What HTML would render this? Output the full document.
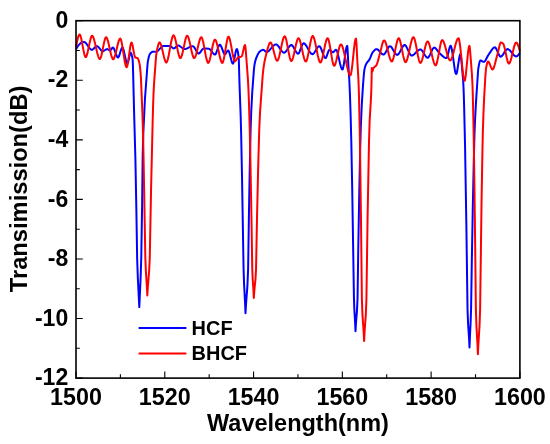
<!DOCTYPE html>
<html lang="en"><head><meta charset="utf-8"><title>Transmission spectra</title>
<style>html,body{margin:0;padding:0;background:#fff}body{width:550px;height:444px;overflow:hidden}svg{display:block}</style></head>
<body>
<svg width="550" height="444" viewBox="0 0 550 444">
<rect width="550" height="444" fill="#fff"/>
<g fill="none" stroke-linejoin="round" stroke-linecap="butt" stroke-width="2">
<path stroke="#0000ff" d="M76.00 49.10 L77.90 46.05 L78.86 44.85 L79.83 43.86 L80.81 43.08 L81.80 42.51 L82.79 42.15 L83.80 42.00 L84.25 42.02 L84.69 42.17 L85.66 42.91 L86.71 44.17 L89.74 48.46 L90.69 49.37 L91.54 49.77 L92.16 49.75 L92.83 49.42 L93.54 48.83 L95.58 46.80 L96.21 46.38 L96.78 46.21 L97.42 46.32 L98.12 46.78 L98.90 47.60 L101.21 50.46 L101.94 51.06 L102.60 51.30 L103.09 51.25 L103.64 51.04 L105.92 49.49 L106.93 49.11 L107.32 49.12 L107.74 49.27 L109.49 50.39 L109.87 50.49 L110.18 50.47 L110.81 49.95 L112.27 47.95 L112.65 47.66 L112.99 47.61 L113.27 47.75 L113.57 48.07 L114.21 49.22 L116.23 54.75 L116.90 56.32 L117.48 57.21 L117.75 57.43 L118.01 57.50 L118.26 57.40 L118.53 57.10 L119.10 55.95 L120.90 50.27 L121.49 48.70 L122.00 47.83 L122.24 47.64 L122.47 47.61 L122.75 47.82 L123.04 48.32 L123.68 50.21 L125.67 59.18 L126.31 61.65 L126.86 63.08 L127.12 63.46 L127.37 63.60 L127.55 63.53 L127.74 63.26 L128.14 62.12 L129.66 54.97 L130.00 53.71 L130.30 52.97 L130.47 52.75 L130.63 52.70 L131.01 53.08 L131.42 54.08 L131.89 55.79 L132.47 58.33 L132.67 59.71 L132.94 65.60 L134.16 114.51 L135.39 158.22 L136.32 207.12 L137.17 258.90 L137.88 279.03 L139.30 307.10 L140.66 276.46 L141.28 256.80 L142.11 205.30 L142.72 154.07 L143.34 132.56 L144.94 98.96 L147.36 66.47 L147.68 62.91 L148.03 60.62 L148.68 57.39 L149.33 55.16 L149.71 54.34 L150.32 53.48 L151.03 52.66 L151.71 52.09 L152.62 51.71 L156.42 51.50 L157.25 51.22 L158.57 50.18 L161.60 46.92 L162.34 46.34 L163.02 46.00 L163.58 45.90 L169.71 45.94 L170.64 46.38 L172.81 48.08 L173.35 48.33 L173.84 48.40 L174.35 48.28 L174.92 47.93 L177.26 45.84 L177.75 45.58 L178.19 45.50 L178.86 45.60 L179.60 45.93 L183.03 48.51 L183.86 48.94 L184.60 49.10 L185.57 49.01 L186.66 48.67 L190.09 46.96 L191.25 46.48 L192.35 46.23 L193.13 46.27 L193.74 46.70 L194.43 47.56 L196.60 51.38 L197.34 52.52 L198.00 53.22 L198.61 53.49 L199.20 53.36 L199.85 52.84 L202.34 49.41 L202.89 48.83 L203.39 48.49 L203.78 48.40 L205.54 48.45 L209.03 48.83 L209.70 49.16 L210.44 49.84 L212.80 52.95 L213.62 53.88 L214.38 54.44 L215.06 54.60 L215.33 54.47 L215.61 54.16 L216.22 53.01 L218.15 47.41 L218.78 45.85 L219.34 44.96 L219.60 44.75 L219.85 44.70 L220.39 45.05 L220.98 45.99 L221.62 47.47 L223.46 52.36 L224.03 53.46 L224.55 54.07 L225.02 54.18 L225.52 53.84 L227.13 51.31 L227.67 50.68 L228.16 50.51 L228.57 50.85 L229.02 51.76 L229.52 53.26 L231.78 61.79 L232.37 63.16 L232.65 63.50 L232.91 63.60 L233.13 63.45 L233.36 63.04 L233.87 61.36 L235.50 52.86 L236.07 50.43 L236.35 49.63 L236.61 49.20 L236.86 49.11 L237.11 49.34 L237.55 50.49 L238.00 52.63 L238.52 56.26 L238.79 59.08 L239.51 84.30 L240.67 115.92 L241.17 135.04 L242.00 175.71 L243.57 268.84 L244.08 283.85 L245.10 303.38 L245.50 313.30 L246.03 303.83 L247.39 286.22 L248.12 269.33 L248.91 215.86 L249.74 169.14 L250.59 130.25 L251.22 112.05 L252.30 91.31 L253.91 69.92 L254.31 66.15 L254.68 63.70 L255.45 60.43 L256.31 57.77 L257.28 55.54 L258.69 52.90 L259.56 51.70 L260.48 50.96 L262.09 50.06 L262.78 49.85 L263.40 49.81 L264.11 50.15 L265.49 51.48 L266.06 51.89 L266.64 52.00 L267.44 51.79 L268.33 51.26 L269.32 50.39 L272.54 46.69 L273.69 45.53 L274.80 44.73 L275.80 44.41 L276.25 44.42 L276.69 44.57 L277.65 45.31 L278.73 46.64 L281.01 50.09 L281.99 51.39 L283.02 52.36 L283.50 52.61 L283.95 52.70 L284.38 52.64 L284.82 52.43 L285.79 51.54 L286.71 50.30 L288.85 47.02 L289.89 45.75 L290.84 45.09 L291.29 45.00 L291.69 45.08 L292.39 45.60 L293.18 46.63 L295.71 51.23 L296.62 52.64 L297.48 53.50 L297.88 53.67 L298.25 53.68 L298.55 53.50 L298.86 53.16 L299.54 51.93 L301.70 46.17 L302.45 44.47 L303.13 43.51 L303.44 43.33 L303.76 43.31 L304.18 43.44 L304.62 43.71 L305.57 44.69 L306.68 46.37 L309.06 50.68 L310.09 52.34 L311.19 53.64 L311.69 54.00 L312.17 54.18 L312.60 54.18 L313.04 54.01 L314.00 53.11 L314.91 51.79 L317.02 48.24 L318.03 46.91 L318.50 46.50 L318.94 46.26 L319.35 46.20 L319.69 46.34 L320.32 47.06 L321.03 48.46 L323.28 54.62 L324.05 56.45 L324.75 57.62 L325.08 57.94 L325.39 58.09 L325.63 58.07 L325.86 57.91 L326.37 57.09 L328.38 51.39 L328.83 50.42 L329.24 49.90 L329.60 49.81 L330.10 50.02 L331.99 51.92 L332.42 52.21 L332.80 52.30 L333.17 52.21 L333.59 51.92 L335.41 50.02 L335.88 49.81 L336.24 49.88 L336.58 50.26 L336.93 50.93 L337.71 53.27 L340.16 63.95 L340.99 67.05 L341.74 68.91 L342.09 69.37 L342.42 69.50 L342.69 69.25 L342.98 68.55 L343.60 65.81 L345.55 52.35 L346.19 48.59 L346.73 46.53 L346.98 46.04 L347.22 45.91 L347.39 46.85 L347.59 49.52 L348.24 62.56 L349.44 82.74 L350.05 97.57 L350.68 117.23 L351.28 140.77 L352.20 188.06 L353.94 297.65 L354.35 309.37 L355.17 323.57 L355.50 331.20 L355.93 323.79 L357.00 310.60 L357.55 298.32 L358.25 250.33 L359.17 197.45 L360.19 149.02 L360.78 127.45 L361.78 104.76 L362.96 85.88 L363.70 76.23 L364.17 71.31 L364.51 69.05 L365.27 66.19 L365.89 64.61 L366.70 63.08 L367.33 62.21 L368.82 60.50 L369.54 59.38 L370.22 57.91 L371.82 53.94 L372.60 52.41 L374.67 50.05 L375.44 49.45 L376.14 49.14 L376.94 49.16 L377.82 49.61 L378.82 50.51 L380.94 52.93 L381.85 53.83 L382.82 54.45 L383.67 54.58 L384.38 54.17 L385.17 53.18 L387.70 48.50 L388.59 47.11 L389.42 46.33 L389.80 46.21 L390.19 46.24 L390.98 46.71 L391.85 47.73 L394.66 52.47 L395.63 53.87 L396.53 54.69 L396.94 54.87 L397.34 54.89 L397.75 54.74 L398.18 54.43 L399.11 53.26 L399.99 51.74 L402.05 47.72 L403.04 46.13 L403.93 45.23 L404.34 45.04 L404.73 45.01 L405.08 45.14 L405.45 45.43 L406.24 46.47 L407.11 48.11 L409.63 53.55 L410.43 54.81 L411.14 55.47 L411.53 55.60 L412.06 55.55 L413.25 55.03 L414.53 54.00 L417.16 51.30 L418.29 50.30 L419.49 49.59 L420.04 49.43 L420.55 49.41 L420.95 49.54 L421.36 49.81 L422.27 50.81 L425.10 55.47 L426.04 56.79 L426.87 57.56 L427.62 57.80 L428.00 57.69 L428.39 57.40 L429.25 56.21 L430.06 54.61 L431.95 50.35 L432.85 48.71 L433.64 47.81 L434.00 47.63 L434.36 47.61 L435.07 47.88 L435.86 48.53 L436.71 49.53 L439.37 53.09 L442.74 56.14 L443.85 57.03 L444.81 57.63 L445.69 57.99 L446.51 58.10 L446.74 57.98 L446.99 57.61 L447.52 56.19 L449.21 49.08 L449.77 47.11 L450.28 46.01 L450.52 45.81 L450.74 45.85 L451.00 46.21 L451.28 46.95 L451.87 49.51 L452.57 53.84 L454.72 69.21 L455.41 72.57 L455.73 73.54 L456.03 74.02 L456.30 74.07 L456.57 73.66 L457.16 71.46 L459.02 59.23 L459.62 56.00 L460.15 54.40 L460.41 54.20 L460.59 54.49 L460.93 56.26 L461.33 59.85 L462.83 76.55 L463.24 82.14 L463.62 89.93 L464.03 102.52 L465.04 144.91 L466.33 222.41 L467.52 308.88 L468.06 323.11 L469.09 338.91 L469.50 347.50 L469.84 338.45 L470.68 321.09 L471.09 308.42 L471.86 258.84 L472.77 208.50 L473.79 161.13 L474.49 134.09 L475.13 118.29 L475.94 103.13 L477.90 73.22 L478.22 69.41 L478.53 67.23 L479.44 62.66 L479.84 61.33 L480.21 60.59 L480.48 60.40 L481.04 60.51 L482.81 61.62 L483.45 61.87 L484.00 61.84 L484.56 61.47 L485.08 60.87 L485.66 59.98 L488.05 55.56 L491.79 49.85 L493.14 48.18 L493.73 47.68 L494.29 47.39 L494.79 47.30 L495.12 47.38 L495.50 47.68 L495.91 48.20 L496.76 49.79 L499.10 55.14 L499.82 56.24 L500.15 56.54 L500.47 56.69 L500.83 56.68 L501.23 56.52 L502.07 55.81 L502.99 54.60 L505.68 50.41 L506.52 49.52 L507.28 49.12 L507.75 49.12 L508.27 49.26 L509.39 49.98 L510.55 51.16 L513.79 55.03 L514.79 55.89 L515.68 56.32 L516.16 56.40 L516.58 56.35 L517.51 55.80 L518.55 54.66 L519.90 52.70"/>
<path stroke="#ff0000" d="M76.00 47.50 L77.09 41.29 L78.08 37.15 L78.55 35.80 L79.01 34.92 L79.46 34.52 L79.67 34.51 L79.87 34.63 L80.19 35.09 L80.52 35.89 L81.24 38.52 L83.59 50.86 L84.42 54.53 L84.83 55.85 L85.21 56.69 L85.57 57.07 L85.94 57.01 L86.28 56.60 L86.63 55.88 L87.40 53.37 L89.88 41.64 L90.75 38.15 L91.17 36.92 L91.56 36.13 L91.93 35.74 L92.31 35.75 L92.73 36.14 L93.17 36.92 L94.12 39.67 L95.02 43.21 L97.13 52.54 L98.15 56.25 L98.62 57.53 L99.07 58.41 L99.50 58.90 L99.90 58.98 L100.25 58.68 L100.61 58.01 L101.41 55.46 L102.17 52.07 L103.93 43.18 L104.78 39.67 L105.53 37.70 L105.88 37.28 L106.22 37.22 L106.61 37.53 L107.02 38.22 L107.92 40.81 L108.77 44.23 L110.75 53.22 L111.69 56.73 L112.52 58.73 L112.91 59.19 L113.28 59.29 L113.67 59.03 L114.08 58.40 L114.98 55.97 L115.83 52.73 L117.79 44.27 L118.71 41.01 L119.52 39.15 L119.89 38.72 L120.25 38.61 L120.58 38.89 L120.92 39.61 L121.65 42.35 L122.46 46.81 L124.86 62.09 L125.62 65.49 L125.97 66.52 L126.30 67.12 L126.63 67.30 L126.91 67.01 L127.23 66.18 L127.56 64.82 L128.26 60.69 L130.25 46.52 L130.87 43.62 L131.16 42.84 L131.43 42.52 L131.65 42.57 L131.89 42.93 L132.40 44.55 L134.19 54.15 L134.90 56.89 L135.30 57.50 L137.15 57.92 L137.73 58.21 L138.20 59.11 L139.00 61.44 L139.55 63.87 L140.02 67.12 L140.47 71.57 L140.90 77.30 L142.45 114.56 L142.97 132.00 L143.52 155.71 L145.31 257.04 L145.83 270.12 L146.89 286.94 L147.30 295.40 L147.81 287.38 L149.08 272.01 L149.76 258.30 L151.08 188.64 L152.76 117.54 L153.15 103.49 L153.54 93.34 L153.95 85.55 L154.65 75.11 L156.12 55.95 L156.54 53.05 L157.38 48.48 L158.02 45.69 L158.61 43.81 L159.13 42.81 L159.38 42.57 L159.62 42.50 L159.88 42.60 L160.14 42.87 L160.69 43.92 L161.77 47.43 L163.82 56.31 L164.65 59.46 L165.51 61.73 L165.91 62.30 L166.29 62.50 L166.65 62.31 L167.03 61.72 L167.84 59.30 L168.78 55.04 L170.80 43.91 L171.67 39.68 L172.60 36.47 L173.02 35.65 L173.43 35.31 L173.78 35.41 L174.15 35.87 L174.94 37.86 L175.86 41.48 L177.82 50.92 L178.67 54.52 L179.57 57.19 L179.98 57.86 L180.38 58.10 L180.74 57.94 L181.12 57.40 L181.93 55.21 L182.80 51.70 L185.33 39.85 L186.13 37.19 L186.49 36.38 L186.84 35.88 L187.25 35.70 L187.67 35.99 L188.11 36.74 L188.58 37.97 L189.57 41.66 L191.58 51.03 L192.44 54.56 L193.35 57.19 L193.76 57.85 L194.16 58.10 L194.57 57.94 L195.00 57.36 L195.45 56.38 L195.94 54.95 L196.83 51.62 L198.90 42.75 L199.89 39.35 L200.34 38.24 L200.76 37.54 L201.17 37.22 L201.55 37.30 L201.92 37.79 L202.30 38.66 L203.14 41.71 L205.78 55.63 L206.66 59.63 L207.45 62.06 L207.81 62.66 L208.16 62.90 L208.51 62.76 L208.88 62.25 L209.67 60.10 L210.56 56.43 L212.43 47.07 L213.23 43.51 L214.08 40.76 L214.47 40.00 L214.84 39.64 L215.23 39.67 L215.64 40.11 L216.06 40.93 L216.51 42.18 L217.50 45.93 L219.56 55.52 L220.45 59.17 L221.39 61.90 L221.82 62.61 L222.23 62.89 L222.56 62.77 L222.90 62.21 L223.64 59.76 L224.46 55.58 L226.86 41.23 L227.62 38.13 L227.97 37.24 L228.30 36.78 L228.48 36.70 L228.66 36.74 L229.04 37.18 L229.43 38.07 L229.85 39.44 L230.73 43.40 L232.55 53.45 L233.32 57.22 L234.13 60.10 L234.50 60.89 L234.86 61.27 L235.26 61.23 L235.71 60.83 L237.27 58.28 L237.87 57.58 L238.75 57.21 L240.98 56.68 L241.61 56.39 L241.81 56.17 L242.15 55.38 L242.52 54.07 L244.21 46.48 L244.67 45.29 L244.89 45.03 L245.06 45.04 L245.35 46.35 L245.67 49.45 L247.76 76.82 L248.35 86.96 L248.89 100.57 L249.67 126.50 L250.46 163.38 L251.42 215.70 L252.25 268.21 L252.65 278.49 L253.46 290.91 L253.80 298.00 L254.29 291.06 L255.45 279.41 L256.04 268.97 L257.06 215.45 L258.18 167.14 L259.28 128.84 L260.13 110.90 L262.72 75.07 L263.40 68.77 L264.23 63.31 L265.19 58.52 L267.56 48.98 L268.90 44.69 L269.58 43.27 L270.22 42.58 L270.52 42.50 L270.80 42.61 L271.39 43.38 L271.95 44.69 L272.57 46.64 L274.78 55.29 L275.67 58.29 L276.14 59.48 L276.58 60.26 L277.00 60.65 L277.40 60.65 L277.81 60.24 L278.23 59.45 L279.16 56.57 L280.04 52.85 L282.11 43.02 L283.13 39.06 L283.61 37.70 L284.07 36.79 L284.51 36.35 L284.72 36.30 L284.92 36.38 L285.27 36.82 L285.64 37.66 L286.45 40.59 L289.00 54.09 L289.87 58.02 L290.66 60.35 L291.03 60.88 L291.38 60.99 L291.79 60.70 L292.21 60.00 L293.13 57.33 L294.00 53.79 L296.03 44.41 L297.01 40.73 L297.46 39.49 L297.88 38.68 L298.29 38.26 L298.68 38.24 L299.08 38.62 L299.49 39.37 L300.40 42.11 L301.26 45.67 L303.27 55.04 L304.23 58.73 L304.67 60.00 L305.08 60.86 L305.48 61.37 L305.86 61.49 L306.25 61.19 L306.66 60.41 L307.55 57.41 L308.39 53.42 L310.33 42.96 L311.26 38.87 L311.68 37.51 L312.08 36.58 L312.46 36.09 L312.83 36.02 L313.26 36.40 L313.70 37.22 L314.68 40.36 L315.60 44.45 L317.74 55.20 L318.75 59.37 L319.20 60.77 L319.63 61.76 L320.04 62.33 L320.44 62.50 L320.85 62.23 L321.28 61.50 L322.21 58.67 L323.09 54.86 L325.13 44.82 L326.10 40.92 L326.53 39.65 L326.94 38.78 L327.33 38.30 L327.70 38.22 L328.03 38.54 L328.38 39.28 L329.13 42.01 L329.95 46.31 L332.30 60.44 L333.04 63.69 L333.70 65.43 L334.07 65.79 L334.47 65.66 L334.90 65.07 L335.36 63.98 L336.36 60.42 L338.46 50.77 L339.37 47.20 L339.87 45.74 L340.33 44.83 L340.76 44.43 L341.20 44.49 L341.71 45.04 L342.24 46.07 L342.80 47.61 L343.41 49.73 L344.52 54.44 L347.08 66.62 L348.31 71.47 L348.88 73.18 L349.41 74.36 L349.92 75.07 L350.41 75.30 L350.72 74.94 L351.05 73.88 L351.77 69.60 L352.45 63.81 L354.01 48.62 L354.74 42.81 L355.36 39.59 L355.65 38.82 L355.80 38.64 L355.93 38.62 L356.19 40.03 L356.49 43.95 L357.41 62.00 L358.21 75.51 L358.63 84.78 L358.96 95.35 L359.69 128.25 L360.16 157.92 L361.05 225.12 L361.87 298.73 L362.49 315.53 L363.65 332.01 L364.10 341.00 L364.58 331.79 L365.78 315.03 L366.41 299.67 L367.65 213.55 L369.04 140.34 L369.68 120.00 L370.81 101.63 L371.22 92.71 L371.51 83.59 L371.75 68.00 L372.20 71.19 L372.27 71.47 L372.35 71.48 L372.60 70.99 L373.19 68.74 L373.46 68.10 L374.21 67.20 L375.98 65.77 L376.47 65.15 L376.80 64.53 L377.79 61.45 L380.10 52.74 L382.37 43.68 L383.22 41.34 L383.60 40.72 L383.97 40.42 L384.36 40.47 L384.78 40.86 L385.21 41.59 L385.67 42.67 L386.72 46.07 L388.94 54.93 L389.91 58.31 L390.44 59.76 L390.93 60.75 L391.40 61.34 L391.85 61.50 L392.24 61.23 L392.65 60.53 L393.54 57.80 L394.38 54.16 L396.36 44.42 L397.34 40.56 L397.80 39.29 L398.24 38.50 L398.65 38.20 L399.05 38.38 L399.40 38.90 L399.77 39.77 L400.57 42.59 L403.14 55.38 L404.02 59.14 L404.84 61.48 L405.22 62.04 L405.59 62.20 L406.03 61.93 L406.50 61.19 L406.99 59.98 L407.52 58.27 L408.49 54.31 L410.72 43.95 L411.79 39.92 L412.28 38.58 L412.74 37.70 L413.18 37.26 L413.60 37.26 L413.98 37.70 L414.38 38.57 L415.24 41.59 L416.06 45.51 L417.96 55.71 L418.86 59.72 L419.66 62.10 L420.03 62.69 L420.39 62.90 L420.81 62.70 L421.24 62.09 L421.69 61.09 L422.18 59.62 L423.08 56.21 L425.16 47.21 L426.15 43.75 L426.60 42.62 L427.02 41.89 L427.42 41.54 L427.82 41.55 L428.26 41.96 L428.71 42.75 L429.70 45.58 L430.64 49.23 L432.81 58.71 L433.85 62.47 L434.32 63.76 L434.77 64.68 L435.20 65.23 L435.61 65.40 L435.95 65.19 L436.31 64.58 L437.09 62.11 L437.94 58.11 L440.38 44.81 L441.15 41.82 L441.50 40.89 L441.84 40.32 L442.22 40.10 L442.72 40.35 L443.22 41.01 L443.75 42.09 L444.89 45.44 L447.24 54.12 L448.25 57.37 L448.80 58.75 L449.32 59.72 L449.81 60.26 L450.27 60.40 L450.73 60.14 L451.22 59.47 L451.74 58.37 L452.29 56.85 L453.30 53.35 L455.61 44.28 L456.69 40.80 L457.17 39.64 L457.62 38.83 L458.05 38.35 L458.47 38.20 L458.64 38.32 L458.82 38.64 L459.19 39.90 L459.99 44.88 L460.75 51.62 L462.49 69.20 L463.30 75.89 L463.99 79.63 L464.31 80.52 L464.62 80.80 L464.89 80.43 L465.17 79.41 L465.79 75.33 L467.72 55.41 L468.35 49.89 L468.89 46.82 L469.15 46.08 L469.39 45.92 L469.56 46.32 L469.73 47.21 L470.12 50.74 L471.84 73.18 L472.44 83.78 L472.80 94.38 L473.59 130.32 L474.06 159.88 L475.00 230.71 L475.87 308.62 L476.43 326.09 L477.49 344.57 L477.90 354.30 L478.35 344.58 L479.51 326.19 L480.13 308.77 L481.51 204.09 L482.36 154.48 L482.87 130.88 L483.49 112.60 L484.20 96.55 L485.38 76.15 L486.01 68.58 L486.59 65.48 L487.15 63.20 L487.65 61.91 L487.88 61.60 L488.11 61.50 L488.36 61.58 L488.62 61.81 L489.18 62.71 L491.10 67.59 L491.84 69.01 L492.22 69.41 L492.58 69.49 L492.94 69.27 L493.32 68.74 L494.05 67.01 L494.89 64.18 L496.62 57.32 L497.74 53.29 L499.70 44.85 L500.26 43.23 L500.52 42.77 L500.77 42.53 L501.17 42.52 L501.71 42.69 L503.00 43.50 L503.36 43.95 L503.73 44.77 L504.75 48.40 L506.61 57.27 L507.34 60.35 L508.08 62.62 L508.42 63.25 L508.75 63.56 L509.15 63.53 L509.58 63.08 L510.03 62.24 L510.51 60.97 L511.48 57.56 L514.15 46.56 L514.97 44.10 L515.35 43.29 L515.71 42.77 L516.14 42.50 L516.62 42.64 L517.12 43.17 L517.63 44.06 L518.70 46.96 L519.90 51.50"/>
</g>
<path d="M76.00 378.10 v-6.7 M120.39 378.10 v-3.8 M164.78 378.10 v-6.7 M209.17 378.10 v-3.8 M253.56 378.10 v-6.7 M297.95 378.10 v-3.8 M342.34 378.10 v-6.7 M386.73 378.10 v-3.8 M431.12 378.10 v-6.7 M475.51 378.10 v-3.8 M519.90 378.10 v-6.7 M76.00 20.70 h6.8 M76.00 50.48 h3.8 M76.00 80.27 h6.8 M76.00 110.05 h3.8 M76.00 139.83 h6.8 M76.00 169.62 h3.8 M76.00 199.40 h6.8 M76.00 229.18 h3.8 M76.00 258.97 h6.8 M76.00 288.75 h3.8 M76.00 318.53 h6.8 M76.00 348.32 h3.8 M76.00 378.10 h6.8" stroke="#000" stroke-width="1.1" fill="none"/>
<rect x="76.00" y="20.70" width="443.90" height="357.40" stroke="#000" stroke-width="1.6" fill="none"/>
<path d="M139.4 328 H185.6" stroke="#0000ff" stroke-width="2" stroke-linecap="round"/>
<path d="M139.4 353.4 H185.6" stroke="#ff0000" stroke-width="2" stroke-linecap="round"/>
<g font-family="'Liberation Sans', Arial, sans-serif" font-weight="bold" fill="#000">
<text x="191.6" y="335" font-size="20.5" textLength="41" lengthAdjust="spacingAndGlyphs">HCF</text>
<text x="191.6" y="360" font-size="20.5" textLength="55.4" lengthAdjust="spacingAndGlyphs">BHCF</text>
<text x="68.2" y="27.80" text-anchor="end" font-size="23">0</text>
<text x="68.2" y="87.37" text-anchor="end" font-size="23">-2</text>
<text x="68.2" y="146.93" text-anchor="end" font-size="23">-4</text>
<text x="68.2" y="206.50" text-anchor="end" font-size="23">-6</text>
<text x="68.2" y="266.07" text-anchor="end" font-size="23">-8</text>
<text x="68.2" y="325.63" text-anchor="end" font-size="23">-10</text>
<text x="68.2" y="385.20" text-anchor="end" font-size="23">-12</text>
<text x="76.00" y="404.6" text-anchor="middle" font-size="23.3">1500</text>
<text x="164.78" y="404.6" text-anchor="middle" font-size="23.3">1520</text>
<text x="253.56" y="404.6" text-anchor="middle" font-size="23.3">1540</text>
<text x="342.34" y="404.6" text-anchor="middle" font-size="23.3">1560</text>
<text x="431.12" y="404.6" text-anchor="middle" font-size="23.3">1580</text>
<text x="519.90" y="404.6" text-anchor="middle" font-size="23.3">1600</text>
<text x="298" y="430.8" text-anchor="middle" font-size="23.5">Wavelength(nm)</text>
<text transform="translate(26.8 188.9) rotate(-90)" text-anchor="middle" font-size="23.7">Transimission(dB)</text>
</g>
</svg>
</body></html>
